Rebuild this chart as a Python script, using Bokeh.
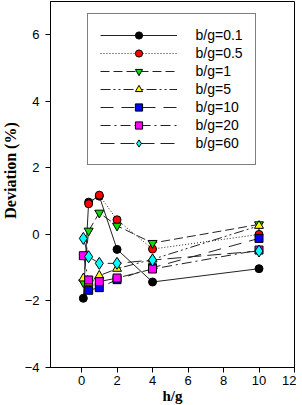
from bokeh.plotting import figure
from bokeh.models import Legend, LegendItem, FixedTicker, Range1d
from bokeh.embed import file_html
from bokeh.resources import INLINE

# ---- data ----
hg_all = [0.1, 0.4, 1, 2, 4, 10]
hg_no01 = [0.4, 1, 2, 4, 10]

dev_bg01 = [-1.92, 0.97, 1.15, -0.45, -1.43, -1.03]
dev_bg05 = [0.92, 1.18, 0.44, -0.44, 0.0]
dev_bg1 = [-1.44, 0.11, 0.65, 0.26, -0.26, 0.30]
dev_bg5 = [-1.32, -1.45, -1.24, -1.03, -0.75, 0.26]
dev_bg10 = [-1.68, -1.60, -1.36, -1.00, -0.12]
dev_bg20 = [-0.64, -1.37, -1.42, -1.31, -1.04, -0.47]
dev_bg60 = [-0.12, -0.67, -0.87, -0.87, -0.77, -0.50]

labels = ["b/g=0.1", "b/g=0.5", "b/g=1", "b/g=5", "b/g=10", "b/g=20", "b/g=60"]
x_ticks = [0, 2, 4, 6, 8, 10, 12]
y_ticks = [-4, -2, 0, 2, 4, 6]

# (x, y, marker, fill, dash, size)
series = [
    (hg_all, dev_bg01, "circle", "black", "solid", 8),
    (hg_no01, dev_bg05, "circle", "red", "1 2", 8),
    (hg_all, dev_bg1, "inverted_triangle", "#00dd00", "9 4", 9),
    (hg_all, dev_bg5, "triangle", "yellow", "10 3 2 3 2 3", 9),
    (hg_no01, dev_bg10, "square", "blue", "13 8", 8),
    (hg_all, dev_bg20, "square", "magenta", "10 4 2 4", 8),
    (hg_all, dev_bg60, "diamond", "cyan", "14 6", 12),
]

p = figure(frame_width=244, frame_height=366, output_backend="svg", toolbar_location=None,
           x_range=Range1d(-1.75, 12), y_range=Range1d(-4, 7),
           min_border_left=0, min_border_right=2, min_border_top=1, min_border_bottom=0)
p.styles = {"margin-top": "0px", "margin-left": "-2.5px", "margin-bottom": "-10px"}

p.xgrid.visible = False
p.ygrid.visible = False
p.outline_line_color = "black"
p.outline_line_width = 1
p.outline_line_alpha = 1
p.background_fill_color = "white"
p.border_fill_color = "white"

for ax in (p.xaxis[0], p.yaxis[0]):
    ax.major_tick_in = 0
    ax.major_tick_out = 5
    ax.minor_tick_in = 0
    ax.minor_tick_out = 0
    ax.axis_line_color = "black"
    ax.major_tick_line_color = "black"
    ax.major_label_text_font = "Liberation Sans"
    ax.major_label_text_font_size = "13px"
    ax.major_label_text_color = "black"
    ax.axis_label_text_font = "Liberation Serif"
    ax.axis_label_text_font_style = "bold"
    ax.axis_label_text_color = "black"

p.xaxis[0].axis_label_text_font_size = "15px"
p.yaxis[0].axis_label_text_font_size = "16px"
p.xaxis[0].ticker = FixedTicker(ticks=x_ticks)
p.yaxis[0].ticker = FixedTicker(ticks=y_ticks)
p.xaxis[0].axis_label = "h/g"
p.yaxis[0].axis_label = "\u00a0" * 7 + "Deviation (%)"
p.xaxis[0].major_label_standoff = 3
p.yaxis[0].major_label_standoff = 6
p.xaxis[0].axis_label_standoff = 0
p.yaxis[0].axis_label_standoff = 3

items = []
for (xs, ys, marker, color, dash, size), lab in zip(series, labels):
    r_line = p.line(xs, ys, line_color="#222222", line_width=1, line_dash=dash)
    r_pt = p.scatter(xs, ys, marker=marker, size=size, fill_color=color,
                     line_color="black", line_width=1)
    items.append(LegendItem(label=lab, renderers=[r_line, r_pt]))

legend = Legend(items=items, location=(37, 202))
legend.border_line_color = "black"
legend.border_line_width = 1
legend.background_fill_alpha = 1
legend.glyph_width = 77
legend.glyph_height = 18
legend.label_height = 18
legend.label_width = 0
legend.spacing = 0
legend.padding = 12
legend.margin = 0
legend.label_standoff = 19
legend.label_text_font = "Liberation Sans"
legend.label_text_font_size = "14px"
legend.label_text_color = "black"
p.add_layout(legend, "center")

open("out.html", "w").write(file_html(p, INLINE))
